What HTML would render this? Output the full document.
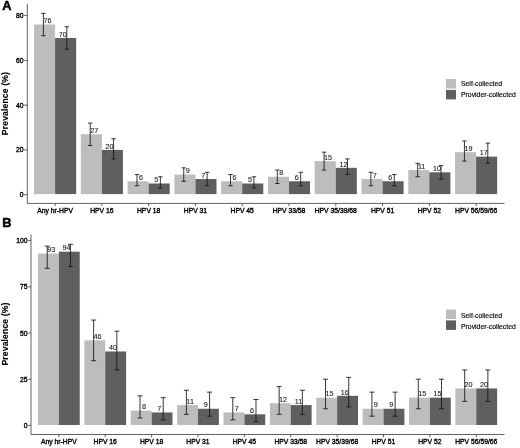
<!DOCTYPE html>
<html><head><meta charset="utf-8"><title>HPV prevalence</title>
<style>
html,body{margin:0;padding:0;background:#fff;}
svg{display:block;font-family:"Liberation Sans",Arial,sans-serif;}
.t{font-size:6.78px;fill:#000;stroke:#000;stroke-width:0.35px;}
.v{font-size:7.2px;fill:#1a1a1a;stroke:#1a1a1a;stroke-width:0.1px;text-anchor:middle;}
.lg{font-size:6.85px;fill:#000;stroke:#000;stroke-width:0.15px;}
.yt{font-size:8.7px;font-weight:bold;fill:#000;stroke:#000;stroke-width:0.12px;letter-spacing:0.09px;}
.pl{font-size:12.8px;font-weight:bold;fill:#000;stroke:#000;stroke-width:0.5px;}
</style></head><body>
<svg width="520" height="448" viewBox="0 0 520 448">
<rect width="520" height="448" fill="#fff"/>
<rect x="34.05" y="24.54" width="21.05" height="169.56" fill="#bdbdbd"/>
<rect x="55.10" y="37.97" width="21.05" height="156.13" fill="#5f5f5f"/>
<rect x="80.83" y="134.25" width="21.05" height="59.85" fill="#bdbdbd"/>
<rect x="101.88" y="149.92" width="21.05" height="44.18" fill="#5f5f5f"/>
<rect x="127.61" y="181.27" width="21.05" height="12.83" fill="#bdbdbd"/>
<rect x="148.66" y="183.50" width="21.05" height="10.59" fill="#5f5f5f"/>
<rect x="174.39" y="174.55" width="21.05" height="19.55" fill="#bdbdbd"/>
<rect x="195.44" y="179.03" width="21.05" height="15.07" fill="#5f5f5f"/>
<rect x="221.17" y="181.27" width="21.05" height="12.83" fill="#bdbdbd"/>
<rect x="242.22" y="183.50" width="21.05" height="10.59" fill="#5f5f5f"/>
<rect x="267.95" y="176.79" width="21.05" height="17.31" fill="#bdbdbd"/>
<rect x="289.00" y="181.27" width="21.05" height="12.83" fill="#5f5f5f"/>
<rect x="314.73" y="161.11" width="21.05" height="32.99" fill="#bdbdbd"/>
<rect x="335.78" y="167.83" width="21.05" height="26.27" fill="#5f5f5f"/>
<rect x="361.51" y="179.03" width="21.05" height="15.07" fill="#bdbdbd"/>
<rect x="382.56" y="181.27" width="21.05" height="12.83" fill="#5f5f5f"/>
<rect x="408.29" y="170.07" width="21.05" height="24.03" fill="#bdbdbd"/>
<rect x="429.34" y="172.31" width="21.05" height="21.79" fill="#5f5f5f"/>
<rect x="455.07" y="152.16" width="21.05" height="41.94" fill="#bdbdbd"/>
<rect x="476.12" y="156.64" width="21.05" height="37.46" fill="#5f5f5f"/>
<path d="M41.20 13.34H45.61M43.41 13.34V35.73M41.20 35.73H45.61M64.59 26.78H69.00M66.80 26.78V49.16M64.59 49.16H69.00M87.98 123.05H92.39M90.19 123.05V145.44M87.98 145.44H92.39M111.37 138.72H115.77M113.57 138.72V158.88M111.37 158.88H115.77M134.77 174.55H139.16M136.97 174.55V185.74M134.77 185.74H139.16M158.16 176.79H162.55M160.35 176.79V187.98M158.16 187.98H162.55M181.55 167.83H185.94M183.75 167.83V181.27M181.55 181.27H185.94M204.94 172.31H209.33M207.13 172.31V185.74M204.94 185.74H209.33M228.33 174.55H232.72M230.53 174.55V185.74M228.33 185.74H232.72M251.72 176.79H256.12M253.91 176.79V187.98M251.72 187.98H256.12M275.11 170.07H279.50M277.31 170.07V183.50M275.11 183.50H279.50M298.50 172.31H302.89M300.69 172.31V185.74M298.50 185.74H302.89M321.89 152.16H326.29M324.09 152.16V170.07M321.89 170.07H326.29M345.28 158.88H349.68M347.48 158.88V174.55M345.28 174.55H349.68M368.67 172.31H373.07M370.87 172.31V185.74M368.67 185.74H373.07M392.06 174.55H396.46M394.26 174.55V185.74M392.06 185.74H396.46M415.45 163.35H419.85M417.65 163.35V176.79M415.45 176.79H419.85M438.84 165.59H443.24M441.04 165.59V179.03M438.84 179.03H443.24M462.23 140.96H466.62M464.43 140.96V161.11M462.23 161.11H466.62M485.62 143.20H490.01M487.81 143.20V163.35M485.62 163.35H490.01" stroke="#141414" stroke-width="0.85" fill="none"/>
<text class="v" x="47.40" y="23.24">76</text>
<text class="v" x="62.80" y="36.67">70</text>
<text class="v" x="94.18" y="132.95">27</text>
<text class="v" x="109.58" y="148.62">20</text>
<text class="v" x="140.96" y="179.97">6</text>
<text class="v" x="156.36" y="182.20">5</text>
<text class="v" x="187.74" y="173.25">9</text>
<text class="v" x="203.14" y="177.73">7</text>
<text class="v" x="234.52" y="179.97">6</text>
<text class="v" x="249.92" y="182.20">5</text>
<text class="v" x="281.30" y="175.49">8</text>
<text class="v" x="296.70" y="179.97">6</text>
<text class="v" x="328.08" y="159.81">15</text>
<text class="v" x="343.48" y="166.53">12</text>
<text class="v" x="374.86" y="177.73">7</text>
<text class="v" x="390.26" y="179.97">6</text>
<text class="v" x="421.64" y="168.77">11</text>
<text class="v" x="437.04" y="171.01">10</text>
<text class="v" x="468.42" y="150.86">19</text>
<text class="v" x="483.82" y="155.34">17</text>
<path d="M27.3 3.8V203.4H504.5" stroke="#3a3a3a" stroke-width="0.8" fill="none"/>
<text class="t" text-anchor="end" x="23.50" y="197.20">0</text>
<text class="t" text-anchor="end" x="23.50" y="152.42">20</text>
<text class="t" text-anchor="end" x="23.50" y="107.64">40</text>
<text class="t" text-anchor="end" x="23.50" y="62.86">60</text>
<text class="t" text-anchor="end" x="23.50" y="18.08">80</text>
<text class="t" text-anchor="middle" x="55.10" y="213.1">Any hr-HPV</text>
<text class="t" text-anchor="middle" x="101.88" y="213.1">HPV 16</text>
<text class="t" text-anchor="middle" x="148.66" y="213.1">HPV 18</text>
<text class="t" text-anchor="middle" x="195.44" y="213.1">HPV 31</text>
<text class="t" text-anchor="middle" x="242.22" y="213.1">HPV 45</text>
<text class="t" text-anchor="middle" x="289.00" y="213.1">HPV 33/58</text>
<text class="t" text-anchor="middle" x="335.78" y="213.1">HPV 35/39/68</text>
<text class="t" text-anchor="middle" x="382.56" y="213.1">HPV 51</text>
<text class="t" text-anchor="middle" x="429.34" y="213.1">HPV 52</text>
<text class="t" text-anchor="middle" x="476.12" y="213.1">HPV 56/59/66</text>
<path d="M24.10 194.70H27.3M24.10 149.92H27.3M24.10 105.14H27.3M24.10 60.36H27.3M24.10 15.58H27.3M55.10 203.4v2.7M101.88 203.4v2.7M148.66 203.4v2.7M195.44 203.4v2.7M242.22 203.4v2.7M289.00 203.4v2.7M335.78 203.4v2.7M382.56 203.4v2.7M429.34 203.4v2.7M476.12 203.4v2.7" stroke="#3a3a3a" stroke-width="0.8" fill="none"/>
<text class="yt" text-anchor="middle" transform="translate(8.3 103.6) rotate(-90)">Prevalence (%)</text>
<text class="pl" x="2.3" y="9.9">A</text>
<rect x="446" y="79" width="10" height="9.5" fill="#bdbdbd"/>
<rect x="446" y="89.9" width="10" height="9.5" fill="#5f5f5f"/>
<text class="lg" x="461" y="86.30">Self-collected</text>
<text class="lg" x="461" y="97.20">Provider-collected</text>
<rect x="37.98" y="253.54" width="20.87" height="171.46" fill="#bdbdbd"/>
<rect x="58.85" y="251.69" width="20.87" height="173.31" fill="#5f5f5f"/>
<rect x="84.36" y="340.39" width="20.87" height="84.61" fill="#bdbdbd"/>
<rect x="105.23" y="351.48" width="20.87" height="73.52" fill="#5f5f5f"/>
<rect x="130.74" y="410.62" width="20.87" height="14.38" fill="#bdbdbd"/>
<rect x="151.61" y="412.46" width="20.87" height="12.54" fill="#5f5f5f"/>
<rect x="177.12" y="405.07" width="20.87" height="19.93" fill="#bdbdbd"/>
<rect x="197.99" y="408.77" width="20.87" height="16.23" fill="#5f5f5f"/>
<rect x="223.50" y="412.46" width="20.87" height="12.54" fill="#bdbdbd"/>
<rect x="244.37" y="414.31" width="20.87" height="10.69" fill="#5f5f5f"/>
<rect x="269.88" y="403.22" width="20.87" height="21.78" fill="#bdbdbd"/>
<rect x="290.75" y="405.07" width="20.87" height="19.93" fill="#5f5f5f"/>
<rect x="316.26" y="397.68" width="20.87" height="27.32" fill="#bdbdbd"/>
<rect x="337.13" y="395.83" width="20.87" height="29.17" fill="#5f5f5f"/>
<rect x="362.64" y="408.77" width="20.87" height="16.23" fill="#bdbdbd"/>
<rect x="383.51" y="408.77" width="20.87" height="16.23" fill="#5f5f5f"/>
<rect x="409.02" y="397.68" width="20.87" height="27.32" fill="#bdbdbd"/>
<rect x="429.89" y="397.68" width="20.87" height="27.32" fill="#5f5f5f"/>
<rect x="455.40" y="388.44" width="20.87" height="36.56" fill="#bdbdbd"/>
<rect x="476.27" y="388.44" width="20.87" height="36.56" fill="#5f5f5f"/>
<path d="M44.76 246.14H49.76M47.26 246.14V268.32M44.76 268.32H49.76M67.95 244.30H72.95M70.45 244.30V266.47M67.95 266.47H72.95M91.14 320.06H96.14M93.64 320.06V360.72M91.14 360.72H96.14M114.33 331.15H119.33M116.83 331.15V369.96M114.33 369.96H119.33M137.52 395.83H142.52M140.02 395.83V418.01M137.52 418.01H142.52M160.71 397.68H165.71M163.21 397.68V419.86M160.71 419.86H165.71M183.90 390.29H188.90M186.40 390.29V414.31M183.90 414.31H188.90M207.09 392.14H212.09M209.59 392.14V416.16M207.09 416.16H212.09M230.28 397.68H235.28M232.78 397.68V419.86M230.28 419.86H235.28M253.47 399.53H258.47M255.97 399.53V421.70M253.47 421.70H258.47M276.65 386.59H281.65M279.15 386.59V414.31M276.65 414.31H281.65M299.85 390.29H304.85M302.35 390.29V414.31M299.85 414.31H304.85M323.04 379.20H328.04M325.54 379.20V408.77M323.04 408.77H328.04M346.23 377.35H351.23M348.73 377.35V406.92M346.23 406.92H351.23M369.42 392.14H374.42M371.92 392.14V416.16M369.42 416.16H374.42M392.61 392.14H397.61M395.11 392.14V416.16M392.61 416.16H397.61M415.80 379.20H420.80M418.30 379.20V408.77M415.80 408.77H420.80M438.99 379.20H443.99M441.49 379.20V408.77M438.99 408.77H443.99M462.18 369.96H467.18M464.68 369.96V401.38M462.18 401.38H467.18M485.37 369.96H490.37M487.87 369.96V401.38M485.37 401.38H490.37" stroke="#141414" stroke-width="0.85" fill="none"/>
<text class="v" x="51.15" y="252.24">93</text>
<text class="v" x="66.55" y="250.39">94</text>
<text class="v" x="97.53" y="339.09">46</text>
<text class="v" x="112.93" y="350.18">40</text>
<text class="v" x="143.91" y="409.32">8</text>
<text class="v" x="159.31" y="411.16">7</text>
<text class="v" x="190.29" y="403.77">11</text>
<text class="v" x="205.69" y="407.47">9</text>
<text class="v" x="236.67" y="411.16">7</text>
<text class="v" x="252.07" y="413.01">6</text>
<text class="v" x="283.05" y="401.92">12</text>
<text class="v" x="298.45" y="403.77">11</text>
<text class="v" x="329.43" y="396.38">15</text>
<text class="v" x="344.83" y="394.53">16</text>
<text class="v" x="375.81" y="407.47">9</text>
<text class="v" x="391.21" y="407.47">9</text>
<text class="v" x="422.19" y="396.38">15</text>
<text class="v" x="437.59" y="396.38">15</text>
<text class="v" x="468.57" y="387.14">20</text>
<text class="v" x="483.97" y="387.14">20</text>
<path d="M31.0 234.5V434.5H504.5" stroke="#3a3a3a" stroke-width="0.8" fill="none"/>
<text class="t" text-anchor="end" x="27.60" y="427.90">0</text>
<text class="t" text-anchor="end" x="27.60" y="381.70">25</text>
<text class="t" text-anchor="end" x="27.60" y="335.50">50</text>
<text class="t" text-anchor="end" x="27.60" y="289.30">75</text>
<text class="t" text-anchor="end" x="27.60" y="243.10">100</text>
<text class="t" text-anchor="middle" x="58.85" y="443.8">Any hr-HPV</text>
<text class="t" text-anchor="middle" x="105.23" y="443.8">HPV 16</text>
<text class="t" text-anchor="middle" x="151.61" y="443.8">HPV 18</text>
<text class="t" text-anchor="middle" x="197.99" y="443.8">HPV 31</text>
<text class="t" text-anchor="middle" x="244.37" y="443.8">HPV 45</text>
<text class="t" text-anchor="middle" x="290.75" y="443.8">HPV 33/58</text>
<text class="t" text-anchor="middle" x="337.13" y="443.8">HPV 35/39/68</text>
<text class="t" text-anchor="middle" x="383.51" y="443.8">HPV 51</text>
<text class="t" text-anchor="middle" x="429.89" y="443.8">HPV 52</text>
<text class="t" text-anchor="middle" x="476.27" y="443.8">HPV 56/59/66</text>
<path d="M28.30 425.40H31.0M28.30 379.20H31.0M28.30 333.00H31.0M28.30 286.80H31.0M28.30 240.60H31.0M58.85 434.5v2.7M105.23 434.5v2.7M151.61 434.5v2.7M197.99 434.5v2.7M244.37 434.5v2.7M290.75 434.5v2.7M337.13 434.5v2.7M383.51 434.5v2.7M429.89 434.5v2.7M476.27 434.5v2.7" stroke="#3a3a3a" stroke-width="0.8" fill="none"/>
<text class="yt" text-anchor="middle" transform="translate(8.3 334) rotate(-90)">Prevalence (%)</text>
<text class="pl" x="2.3" y="227.2">B</text>
<rect x="446" y="309.5" width="10" height="9.5" fill="#bdbdbd"/>
<rect x="446" y="320.4" width="10" height="9.5" fill="#5f5f5f"/>
<text class="lg" x="461" y="317.60">Self-collected</text>
<text class="lg" x="461" y="328.50">Provider-collected</text>
</svg>
</body></html>
